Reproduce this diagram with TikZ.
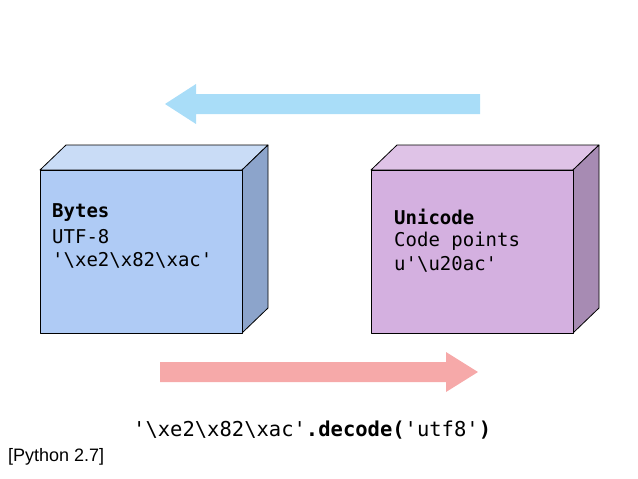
\documentclass[tikz,border=0pt]{standalone}
\usepackage{fontspec}
\setmainfont{Liberation Sans}
\newfontfamily\codefont{DejaVu Sans Mono}
\definecolor{bfront}{HTML}{AFCBF5}
\definecolor{btop}{HTML}{C9DCF6}
\definecolor{bside}{HTML}{8CA4CB}
\definecolor{ufront}{HTML}{D4B0E0}
\definecolor{utop}{HTML}{DFC3E7}
\definecolor{uside}{HTML}{A78BB3}
\definecolor{arrblue}{HTML}{A9DDF8}
\definecolor{arrpink}{HTML}{F6A9A9}
\begin{document}
\begin{tikzpicture}[x=1pt,y=1pt,yscale=-1,
  face/.style={draw=black,line width=0.8pt,line join=round},
  code/.style={font=\codefont\fontsize{19}{23}\selectfont,anchor=west,inner sep=0pt}]
\useasboundingbox (0,0) rectangle (638,479);
% Bytes box
\fill[face,fill=btop] (40,170) -- (66,145) -- (268,145) -- (242,170) -- cycle;
\fill[face,fill=bside] (242,170) -- (268,145) -- (268,308) -- (242,333) -- cycle;
\fill[face,fill=bfront] (40,170) rectangle (242,333);
% Unicode box
\fill[face,fill=utop] (371,170) -- (397,145) -- (599,145) -- (573,170) -- cycle;
\fill[face,fill=uside] (573,170) -- (599,145) -- (599,308) -- (573,333) -- cycle;
\fill[face,fill=ufront] (371,170) rectangle (573,333);
% arrows
\fill[arrblue] (480,94) -- (196,94) -- (196,84) -- (165,104) -- (196,124) -- (196,114) -- (480,114) -- cycle;
\fill[arrpink] (160,362) -- (446,362) -- (446,352) -- (478,372) -- (446,392) -- (446,382) -- (160,382) -- cycle;
% texts
\node[code] (b1) at (52,213) {\bfseries Bytes};
\node[code] (b2) at (52,237) {UTF-8};
\node[code] (b3) at (52,260) {'\textbackslash xe2\textbackslash x82\textbackslash xac'};
\node[code] (u1) at (394,217) {\bfseries Unicode};
\node[code] (u2) at (394,241) {Code points};
\node[code] (u3) at (394,264) {u'\textbackslash u20ac'};
\node[code,font=\codefont\fontsize{20.5}{24}\selectfont] (dec) at (133,430) {'\textbackslash xe2\textbackslash x82\textbackslash xac'\textbf{.decode(}'utf8'\textbf{)}};
\node[anchor=west,inner sep=0pt,font=\fontsize{18}{22}\selectfont] (py) at (8,457) {[Python 2.7]};
\end{tikzpicture}
\end{document}
